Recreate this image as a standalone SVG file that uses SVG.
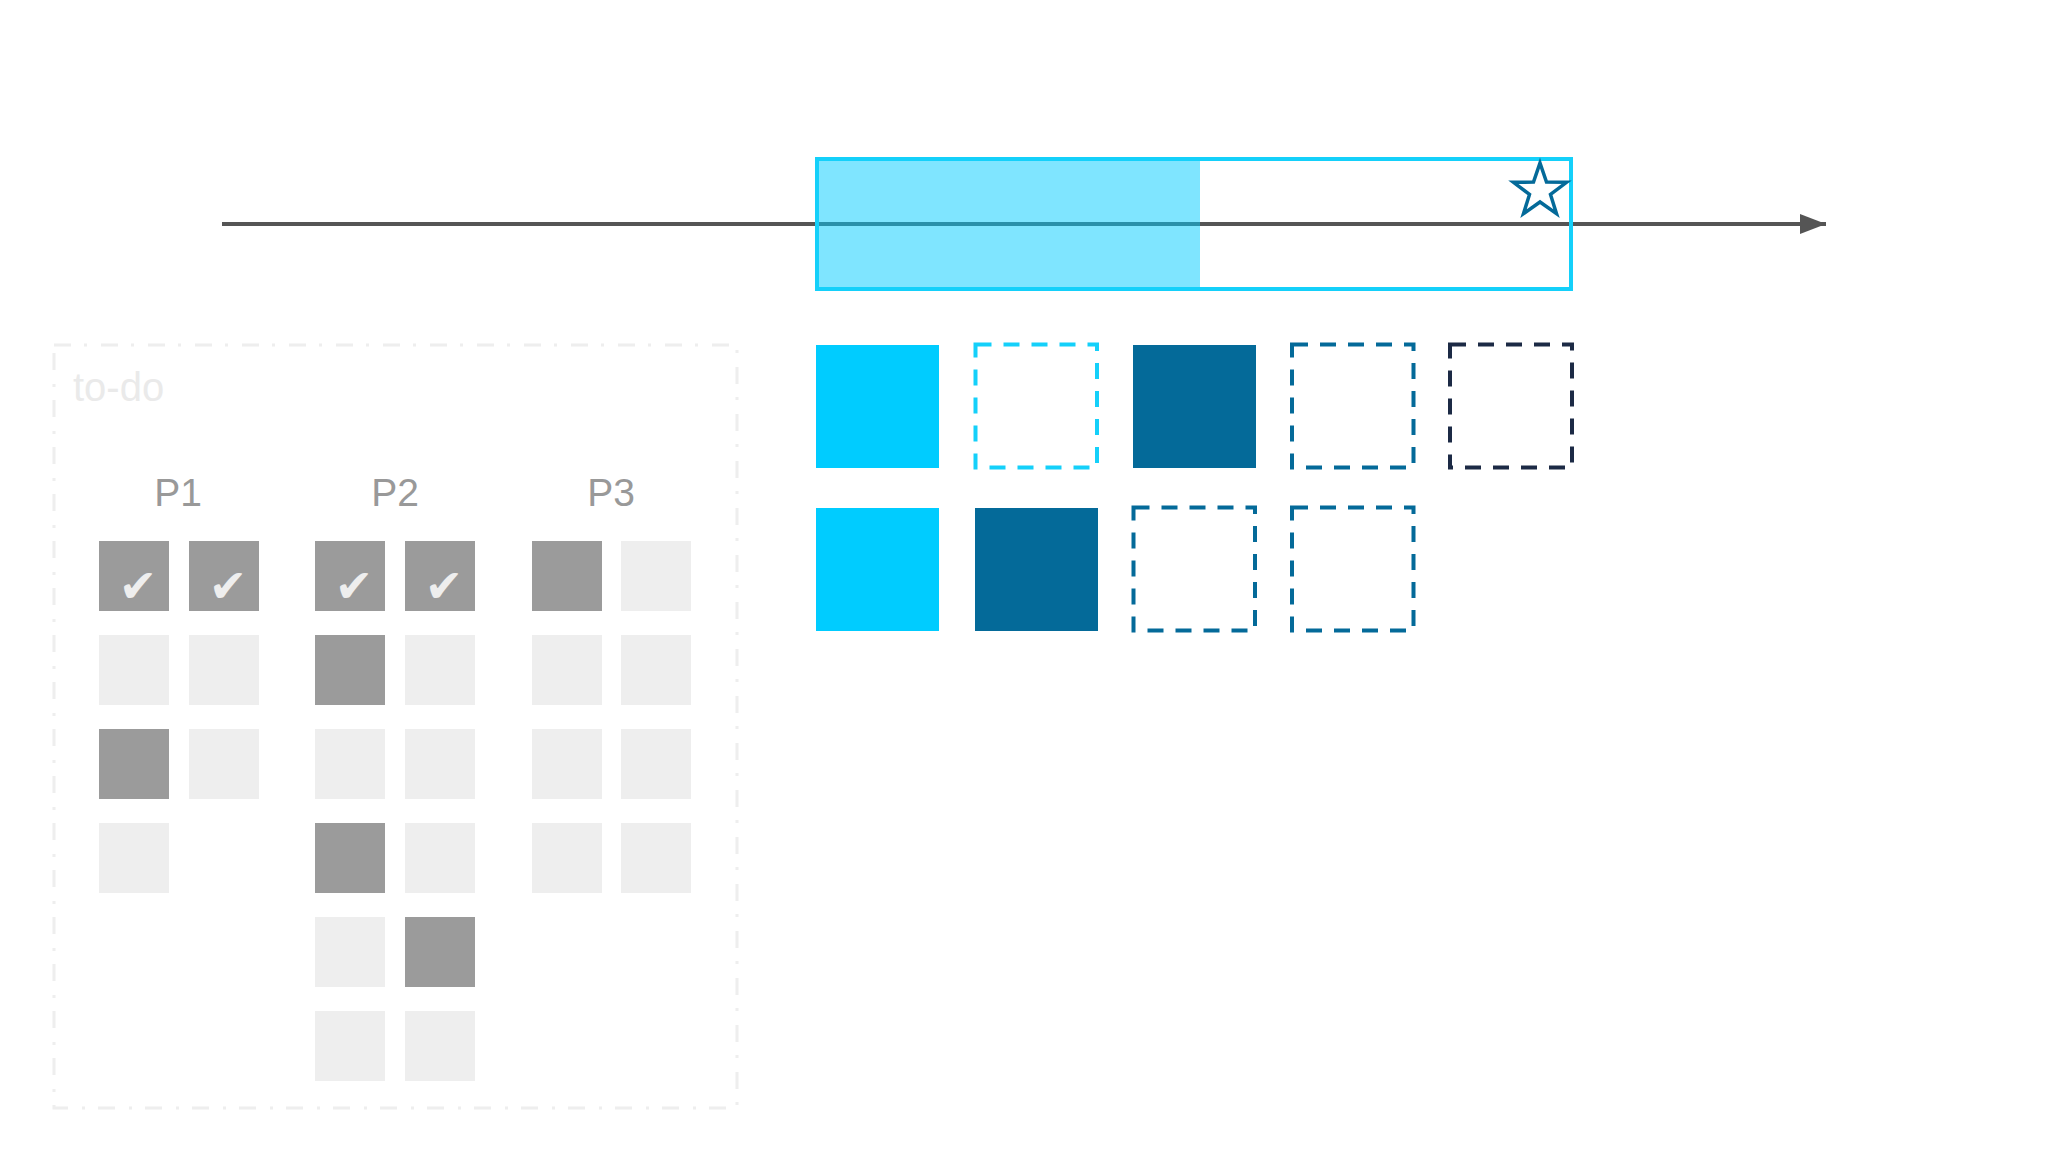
<svg xmlns="http://www.w3.org/2000/svg" width="2048" height="1152" viewBox="0 0 2048 1152">
<defs>
<style>
.dk{fill:#9b9b9b}
.lt{fill:#eeeeee}
.chk{fill:#eeeeee;font-family:"DejaVu Sans",sans-serif;font-size:46px;text-anchor:middle}
.plab{fill:#999999;font-family:"Liberation Sans",Arial,sans-serif;font-size:39px;text-anchor:middle}
.cy{fill:#00ccff}
.db{fill:#046a99}
.dash{fill:none;stroke-width:4;stroke-dasharray:16 12}
</style>
<marker id="ah" viewBox="0 0 13 10" refX="13" refY="5" markerWidth="6.5" markerHeight="5" markerUnits="strokeWidth" orient="auto">
<path d="M0,0 L13,5 L0,10 z" fill="#555555"/>
</marker>
</defs>
<rect width="2048" height="1152" fill="#ffffff"/>

<g id="connectors">
<line x1="222" y1="224" x2="1826" y2="224" stroke="#555555" stroke-width="4" marker-end="url(#ah)"/>
</g>

<g id="progress">
<rect x="819" y="161" width="381" height="126" fill="#00ccff" fill-opacity="0.5"/>
<rect x="817" y="159" width="754" height="130" fill="none" stroke="#14d0fa" stroke-width="4"/>
<polygon id="star" points="1540,163 1546.5,182.1 1566.6,182.3 1550.5,194.4 1556.5,213.7 1540,202 1523.5,213.7 1529.5,194.4 1513.4,182.3 1533.5,182.1" fill="#ffffff" stroke="#046a99" stroke-width="3.5" stroke-linejoin="miter"/>
</g>

<g id="queue">
<rect id="q1" class="cy" x="816" y="345" width="123" height="123"/>
<rect id="q2" class="dash" x="975.5" y="344.5" width="121.5" height="123" stroke="#14d0fa"/>
<rect id="q3" class="db" x="1133" y="345" width="123" height="123"/>
<rect id="q4" class="dash" x="1292" y="344.5" width="121.5" height="123" stroke="#046a99"/>
<rect id="q5" class="dash" x="1450" y="344.5" width="122" height="123" stroke="#1c2a45"/>
<rect id="q6" class="cy" x="816" y="508" width="123" height="123"/>
<rect id="q7" class="db" x="975" y="508" width="123" height="123"/>
<rect id="q8" class="dash" x="1133.5" y="507.5" width="121.5" height="123" stroke="#046a99"/>
<rect id="q9" class="dash" x="1292" y="507.5" width="121.5" height="123" stroke="#046a99"/>
</g>

<g id="todo">
<rect x="54" y="345" width="683" height="763" fill="none" stroke="#eeeeee" stroke-width="3" stroke-dasharray="17 13 3 14"/>
<text x="73" y="401" fill="#eaeaea" font-family="'Liberation Sans',Arial,sans-serif" font-size="40">to-do</text>
</g>

<g id="P1">
<text class="plab" x="178" y="506">P1</text>
<rect class="dk" x="99" y="541" width="70" height="70"/>
<rect class="dk" x="189" y="541" width="70" height="70"/>
<text class="chk" x="138" y="602">✔</text>
<text class="chk" x="228" y="602">✔</text>
<rect class="lt" x="99" y="635" width="70" height="70"/>
<rect class="lt" x="189" y="635" width="70" height="70"/>
<rect class="dk" x="99" y="729" width="70" height="70"/>
<rect class="lt" x="189" y="729" width="70" height="70"/>
<rect class="lt" x="99" y="823" width="70" height="70"/>
</g>

<g id="P2">
<text class="plab" x="395" y="506">P2</text>
<rect class="dk" x="315" y="541" width="70" height="70"/>
<rect class="dk" x="405" y="541" width="70" height="70"/>
<text class="chk" x="354" y="602">✔</text>
<text class="chk" x="444" y="602">✔</text>
<rect class="dk" x="315" y="635" width="70" height="70"/>
<rect class="lt" x="405" y="635" width="70" height="70"/>
<rect class="lt" x="315" y="729" width="70" height="70"/>
<rect class="lt" x="405" y="729" width="70" height="70"/>
<rect class="dk" x="315" y="823" width="70" height="70"/>
<rect class="lt" x="405" y="823" width="70" height="70"/>
<rect class="lt" x="315" y="917" width="70" height="70"/>
<rect class="dk" x="405" y="917" width="70" height="70"/>
<rect class="lt" x="315" y="1011" width="70" height="70"/>
<rect class="lt" x="405" y="1011" width="70" height="70"/>
</g>

<g id="P3">
<text class="plab" x="611" y="506">P3</text>
<rect class="dk" x="532" y="541" width="70" height="70"/>
<rect class="lt" x="621" y="541" width="70" height="70"/>
<rect class="lt" x="532" y="635" width="70" height="70"/>
<rect class="lt" x="621" y="635" width="70" height="70"/>
<rect class="lt" x="532" y="729" width="70" height="70"/>
<rect class="lt" x="621" y="729" width="70" height="70"/>
<rect class="lt" x="532" y="823" width="70" height="70"/>
<rect class="lt" x="621" y="823" width="70" height="70"/>
</g>
</svg>
